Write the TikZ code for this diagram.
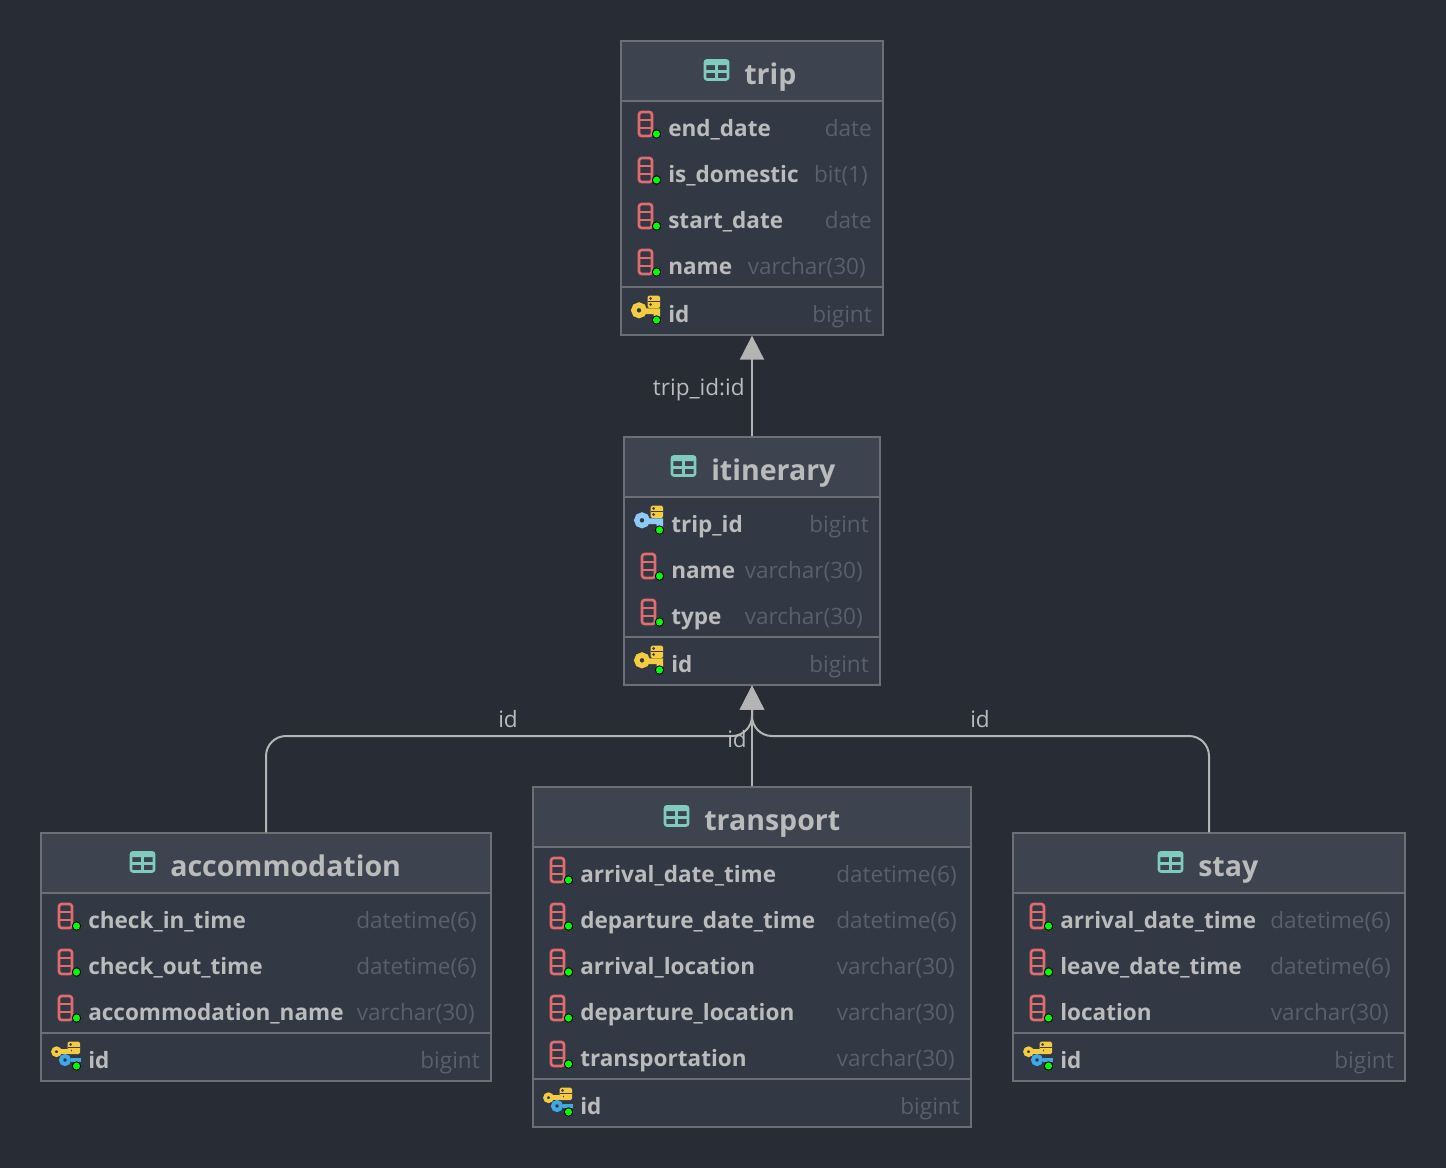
\documentclass[tikz,border=0pt]{standalone}
\usepackage{fontspec}
\setmainfont{Open Sans}
\usepackage{xcolor}
\usetikzlibrary{arrows.meta}
\definecolor{canvasbg}{HTML}{282C34}
\definecolor{bodybg}{HTML}{323844}
\definecolor{headbg}{HTML}{3D4450}
\definecolor{edgegray}{HTML}{6C6F73}
\definecolor{namegray}{HTML}{BBBBBB}
\definecolor{typegray}{HTML}{5A606B}
\definecolor{linkgray}{HTML}{B4B4B4}
\definecolor{tealicon}{HTML}{7FCBBD}
\definecolor{colred}{HTML}{E06C70}
\definecolor{pkyellow}{HTML}{F5CB42}
\definecolor{fkblue}{HTML}{8CCBF5}
\definecolor{fkdeep}{HTML}{3FA9E8}
\tikzset{
  tablebox/.style={draw=edgegray,line width=1pt,fill=bodybg,inner sep=0pt},
  tablehead/.style={fill=headbg,inner sep=0pt},
  sepline/.style={draw=edgegray,line width=1.5pt},
  tabletitle/.style={anchor=base west,inner sep=0pt,text=namegray,font=\fontsize{21.4}{26}\selectfont\bfseries},
  colname/.style={anchor=base west,inner sep=0pt,text=namegray,font=\fontsize{16.9}{20}\selectfont\bfseries},
  coltype/.style={anchor=base east,inner sep=0pt,text=typegray,font=\fontsize{16.9}{20}\selectfont},
  linklabel/.style={inner sep=0pt,text=namegray,font=\fontsize{16.9}{20}\selectfont},
  fklink/.style={draw=linkgray,line width=1.5pt,-{Triangle[length=18pt,width=18pt,fill=linkgray]}},
  dotmark/.pic={\draw[black,line width=.7pt,fill=green] (0,0) circle (4.2);},
  colicon/.pic={
    \draw[colred,line width=2pt,rounded corners=2pt] (-17.5,-22) rectangle (-4.5,2);
    \draw[colred,line width=2pt] (-17.5,-14) -- (-4.5,-14) (-17.5,-6) -- (-4.5,-6);
    \pic {dotmark};},
  keyfolder/.pic={
    \fill[pkyellow,rounded corners=1pt] (-8.8,-24.3) rectangle (3.5,-12);
    \draw[black!75,line width=.7pt] (-8.8,-18.5) -- (3.5,-18.5);
    \fill[black!75] (-5.8,-21.5) circle (1.5) (-5.8,-15.5) circle (1.5);},
  pkicon/.pic={
    \pic {keyfolder};
    \fill[pkyellow] (-12,-11.7) rectangle (3.5,-6) (-3,-6) rectangle (3.5,-3);
    \draw[pkyellow,line width=4pt] (-17.5,-9.7) circle (5.25);
    \pic {dotmark};},
  fkicon/.pic={
    \pic {keyfolder};
    \fill[fkblue] (-12,-11.7) rectangle (3.5,-6) (-3,-6) rectangle (3.5,-3);
    \draw[fkblue,line width=4pt] (-17.5,-9.7) circle (5.25);
    \pic {dotmark};},
  pkfkicon/.pic={
    \pic {keyfolder};
    \fill[pkyellow] (-16,-17) rectangle (-6,-12);
    \draw[pkyellow,line width=2.7pt] (-20,-14.3) circle (3.5);
    \fill[fkdeep] (-6,-8) rectangle (4,-4);
    \draw[fkdeep,line width=3pt] (-11.5,-6) circle (4);
    \pic {dotmark};},
  tableicon/.pic={
    \fill[tealicon,rounded corners=1.5pt] (-1,-10.5) rectangle (24,-5);
    \draw[tealicon,line width=1.9pt,rounded corners=1.5pt] (0,-9.5) rectangle (23,9.5);
    \draw[tealicon,line width=1.7pt] (0,1.5) -- (23,1.5) (11.5,-6) -- (11.5,9.5);},
}
\begin{document}
\begin{tikzpicture}[x=0.75pt,y=-0.75pt]
\fill[canvasbg] (0,0) rectangle (1446,1168);
\useasboundingbox (0,0) rectangle (1446,1168);
% trip
\node[tablebox,minimum width=196.5pt,minimum height=220.5pt] (trip) at (752,188) {};
\node[tablehead,minimum width=195.5pt,minimum height=44.25pt] (triphead) at (752,71.5) {};
\draw[sepline] (trip.west |- triphead.south) -- (trip.east |- triphead.south);
\draw[sepline] (621,287) -- (883,287);
\pic at (705,70) {tableicon};
\node[tabletitle] (triptitle) at (744,84) {trip};
\pic at (656.5,134) {colicon};
\node[colname] (tripend) at (668,136) {end\_date};
\node[coltype] (tripendt) at (872,136) {date};
\pic at (656.5,180) {colicon};
\node[colname] (tripdom) at (668,182) {is\_domestic};
\node[coltype] (tripdomt) at (868,182) {bit(1)};
\pic at (656.5,226) {colicon};
\node[colname] (tripstart) at (668,228) {start\_date};
\node[coltype] (tripstartt) at (872,228) {date};
\pic at (656.5,272) {colicon};
\node[colname] (tripname) at (668,274) {name};
\node[coltype] (tripnamet) at (866,274) {varchar(30)};
\pic at (656.5,320) {pkicon};
\node[colname] (tripid) at (668,322) {id};
\node[coltype] (tripidt) at (872,322) {bigint};
% itinerary
\node[tablebox,minimum width=192pt,minimum height=186pt] (itinerary) at (752,561) {};
\node[tablehead,minimum width=191pt,minimum height=44.25pt] (itinhead) at (752,467.5) {};
\draw[sepline] (itinerary.west |- itinhead.south) -- (itinerary.east |- itinhead.south);
\draw[sepline] (624,637) -- (880,637);
\pic at (672,466) {tableicon};
\node[tabletitle] (itintitle) at (711,480) {itinerary};
\pic at (659.5,530) {fkicon};
\node[colname] (itintrip) at (671,532) {trip\_id};
\node[coltype] (itintript) at (869,532) {bigint};
\pic at (659.5,576) {colicon};
\node[colname] (itinname) at (671,578) {name};
\node[coltype] (itinnamet) at (863,578) {varchar(30)};
\pic at (659.5,622) {colicon};
\node[colname] (itintype) at (671,624) {type};
\node[coltype] (itintypet) at (863,624) {varchar(30)};
\pic at (659.5,670) {pkicon};
\node[colname] (itinid) at (671,672) {id};
\node[coltype] (itinidt) at (869,672) {bigint};
% accommodation
\node[tablebox,minimum width=337.5pt,minimum height=186pt] (accommodation) at (266,957) {};
\node[tablehead,minimum width=336.5pt,minimum height=44.25pt] (acchead) at (266,863.5) {};
\draw[sepline] (accommodation.west |- acchead.south) -- (accommodation.east |- acchead.south);
\draw[sepline] (41,1033) -- (491,1033);
\pic at (131,862) {tableicon};
\node[tabletitle] (acctitle) at (170,876) {accommodation};
\pic at (76.5,926) {colicon};
\node[colname] (acccheckin) at (88,928) {check\_in\_time};
\node[coltype] (acccheckint) at (477,928) {datetime(6)};
\pic at (76.5,972) {colicon};
\node[colname] (acccheckout) at (88,974) {check\_out\_time};
\node[coltype] (acccheckoutt) at (477,974) {datetime(6)};
\pic at (76.5,1018) {colicon};
\node[colname] (accname) at (88,1020) {accommodation\_name};
\node[coltype] (accnamet) at (475,1020) {varchar(30)};
\pic at (76.5,1066) {pkfkicon};
\node[colname] (accid) at (88,1068) {id};
\node[coltype] (accidt) at (480,1068) {bigint};
% transport
\node[tablebox,minimum width=328.5pt,minimum height=255pt] (transport) at (752,957) {};
\node[tablehead,minimum width=327.5pt,minimum height=44.25pt] (transhead) at (752,817.5) {};
\draw[sepline] (transport.west |- transhead.south) -- (transport.east |- transhead.south);
\draw[sepline] (533,1079) -- (971,1079);
\pic at (665,816) {tableicon};
\node[tabletitle] (transtitle) at (704,830) {transport};
\pic at (568.5,880) {colicon};
\node[colname] (transarrt) at (580,882) {arrival\_date\_time};
\node[coltype] (transarrtt) at (957,882) {datetime(6)};
\pic at (568.5,926) {colicon};
\node[colname] (transdept) at (580,928) {departure\_date\_time};
\node[coltype] (transdeptt) at (957,928) {datetime(6)};
\pic at (568.5,972) {colicon};
\node[colname] (transarrl) at (580,974) {arrival\_location};
\node[coltype] (transarrlt) at (955,974) {varchar(30)};
\pic at (568.5,1018) {colicon};
\node[colname] (transdepl) at (580,1020) {departure\_location};
\node[coltype] (transdeplt) at (955,1020) {varchar(30)};
\pic at (568.5,1064) {colicon};
\node[colname] (transmode) at (580,1066) {transportation};
\node[coltype] (transmodet) at (955,1066) {varchar(30)};
\pic at (568.5,1112) {pkfkicon};
\node[colname] (transid) at (580,1114) {id};
\node[coltype] (transidt) at (960,1114) {bigint};
% stay
\node[tablebox,minimum width=294pt,minimum height=186pt] (stay) at (1209,957) {};
\node[tablehead,minimum width=293pt,minimum height=44.25pt] (stayhead) at (1209,863.5) {};
\draw[sepline] (stay.west |- stayhead.south) -- (stay.east |- stayhead.south);
\draw[sepline] (1013,1033) -- (1405,1033);
\pic at (1159,862) {tableicon};
\node[tabletitle] (staytitle) at (1198,876) {stay};
\pic at (1048.5,926) {colicon};
\node[colname] (stayarr) at (1060,928) {arrival\_date\_time};
\node[coltype] (stayarrt) at (1391,928) {datetime(6)};
\pic at (1048.5,972) {colicon};
\node[colname] (stayleave) at (1060,974) {leave\_date\_time};
\node[coltype] (stayleavet) at (1391,974) {datetime(6)};
\pic at (1048.5,1018) {colicon};
\node[colname] (stayloc) at (1060,1020) {location};
\node[coltype] (staylloct) at (1389,1020) {varchar(30)};
\pic at (1048.5,1066) {pkfkicon};
\node[colname] (stayid) at (1060,1068) {id};
\node[coltype] (stayidt) at (1394,1068) {bigint};
% links
\coordinate (busjoin) at (752,736);
\draw[fklink] (itinerary.north) -- (trip.south);
\draw[fklink] (transport.north) -- (itinerary.south);
\draw[fklink] (accommodation.north) [rounded corners=15pt] |- (busjoin) [rounded corners=7pt] -- (itinerary.south);
\draw[fklink,rounded corners=15pt] (stay.north) |- (busjoin) -- (itinerary.south);
\node[linklabel,anchor=east] (tripidlabel) at (745,390) {trip\_id:id};
\node[linklabel] (accidlabel) at (508,719) {id};
\node[linklabel] (transidlabel) at (737,739) {id};
\node[linklabel] (stayidlabel) at (980,719) {id};
\end{tikzpicture}
\end{document}
